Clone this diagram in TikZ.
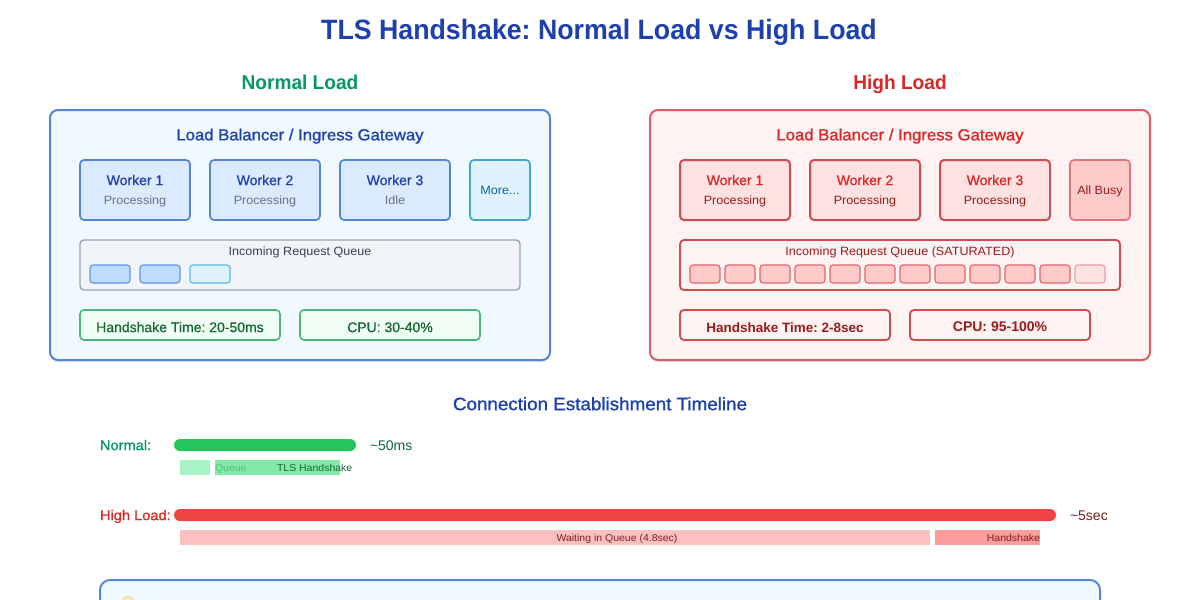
\documentclass[tikz,border=0pt]{standalone}
\usepackage{fontspec}
\usetikzlibrary{shadows}
\setmainfont{Liberation Sans}
\newfontfamily\regf[FakeStretch=1.05]{Liberation Sans}
\newfontfamily\medf[FakeBold=.6]{Liberation Sans}
\newfontfamily\semif[FakeBold=1.1,FakeStretch=1.045]{Liberation Sans}
\newfontfamily\headf[FakeStretch=.955]{Liberation Sans}
\newcommand{\T}[3]{\fontsize{#1}{#1}\selectfont\frenchspacing #2\rule{0pt}{.73em}\smash{#3}}
\definecolor{tblue}{HTML}{1E40AF}
\definecolor{tgreen}{HTML}{059669}
\definecolor{tred}{HTML}{DC2626}
\definecolor{dred}{HTML}{991B1B}
\definecolor{dgreen}{HTML}{166534}
\definecolor{grayt}{HTML}{6B7280}
\definecolor{bstroke}{HTML}{5585D8}
\definecolor{rstroke}{HTML}{DC5F65}
\definecolor{rinner}{HTML}{D04C52}
\definecolor{skyfill}{HTML}{F0F9FF}
\definecolor{rosefill}{HTML}{FEF2F2}
\definecolor{bluefill}{HTML}{DBEAFE}
\definecolor{redfill}{HTML}{FEE2E2}
\definecolor{cyanline}{HTML}{3FA9CC}
\definecolor{cyanfill}{HTML}{E0F2FE}
\definecolor{busyline}{HTML}{E8747A}
\definecolor{busyfill}{HTML}{FECACA}
\definecolor{grayline}{HTML}{9CA3AF}
\definecolor{slatefill}{HTML}{F1F5F9}
\definecolor{itemline}{HTML}{5F93E6}
\definecolor{itemfill}{HTML}{BFDBFE}
\definecolor{itemcline}{HTML}{56B8E6}
\definecolor{itemrline}{HTML}{E0656B}
\definecolor{itemlline}{HTML}{EB9DA0}
\definecolor{greenline}{HTML}{4CB873}
\definecolor{greenfill}{HTML}{F0FDF4}
\definecolor{moreT}{HTML}{0369A1}
\definecolor{barG}{HTML}{22C55E}
\definecolor{barR}{HTML}{EF4444}
\definecolor{segG1}{HTML}{A9F4C6}
\definecolor{segG2}{HTML}{84E9A8}
\definecolor{segR1}{HTML}{FCC0C0}
\definecolor{segR2}{HTML}{FD9C9C}
\definecolor{qtxt}{HTML}{4AC47A}
\definecolor{dkred}{HTML}{7F1D1D}
\definecolor{qtext}{HTML}{374151}
\definecolor{bulbline}{HTML}{F3DC98}
\definecolor{bulbfill}{HTML}{FBF1D0}
\tikzset{
  box/.style={rectangle,anchor=north west,inner sep=0pt,outer sep=0pt,rounded corners=#1},
  box/.default=4pt,
  txt/.style={inner sep=0pt,outer sep=0pt,anchor=center,align=center},
  softshadow/.style={drop shadow={shadow xshift=0pt,shadow yshift=-2pt,opacity=.10,fill=black}},
  panelN/.style={box=8pt,draw=bstroke,line width=2pt,fill=skyfill,minimum width=500pt,minimum height=250pt,softshadow},
  panelR/.style={box=8pt,draw=rstroke,line width=2pt,fill=rosefill,minimum width=500pt,minimum height=250pt,softshadow},
  workerN/.style={box,draw=bstroke,line width=1.7pt,fill=bluefill,minimum width=110pt,minimum height=60pt},
  workerR/.style={box,draw=rinner,line width=2pt,fill=redfill,minimum width=110pt,minimum height=60pt},
  moreN/.style={box,draw=cyanline,line width=1.7pt,fill=cyanfill,minimum width=60pt,minimum height=60pt},
  moreR/.style={box,draw=busyline,line width=1.7pt,fill=busyfill,minimum width=60pt,minimum height=60pt},
  queueN/.style={box,draw=grayline,line width=1.4pt,fill=slatefill,minimum width=440pt,minimum height=50pt},
  queueR/.style={box,draw=rinner,line width=1.8pt,fill=rosefill,minimum width=440pt,minimum height=50pt},
  itemB/.style={box=3pt,draw=itemline,line width=1.1pt,fill=itemfill,minimum width=40pt,minimum height=18pt},
  itemC/.style={box=3pt,draw=itemcline,line width=1.1pt,fill=cyanfill,minimum width=40pt,minimum height=18pt},
  itemR/.style={box=3pt,draw=itemrline,line width=1.1pt,fill=busyfill,minimum width=30pt,minimum height=18pt},
  itemL/.style={box=3pt,draw=itemlline,line width=1.1pt,fill=redfill,minimum width=30pt,minimum height=18pt},
  metricN/.style={box,draw=greenline,line width=1.6pt,fill=greenfill,minimum height=30pt},
  metricR/.style={box,draw=rinner,line width=1.8pt,fill=rosefill,minimum height=30pt},
  bar/.style={box=6pt,minimum height=12pt},
  seg/.style={box=0pt,minimum height=15pt}
}
\begin{document}
\begin{tikzpicture}[x=1pt,y=-1pt]
\useasboundingbox (0,0) rectangle (1200,600);
\clip (0,0) rectangle (1200,600);
\fill[white] (0,0) rectangle (1200,600);
\node[txt,text=tblue] (title) at (599,29.2) {\T{28}{\headf\bfseries}{TLS Handshake: Normal Load vs High Load}};
\node[txt,text=tgreen] (hN) at (300,82.4) {\T{20}{\headf\bfseries}{Normal Load}};
\node[txt,text=tred] (hR) at (900,82.4) {\T{20}{\headf\bfseries}{High Load}};
% Left panel
\node[panelN] (pN) at (50,110) {};
\node[txt,text=tblue] (lbN) at (300,134.5) {\T{16}{\semif}{Load Balancer / Ingress Gateway}};
\node[workerN] (wn1) at (80,160) {};
\node[workerN] (wn2) at (210,160) {};
\node[workerN] (wn3) at (340,160) {};
\node[moreN] (wn4) at (470,160) {};
\node[txt,text=tblue] (wn1a) at (135,180) {\T{14}{\medf}{Worker 1}};
\node[txt,text=grayt] (wn1b) at (135,200.5) {\T{12}{\regf}{Processing}};
\node[txt,text=tblue] (wn2a) at (265,180) {\T{14}{\medf}{Worker 2}};
\node[txt,text=grayt] (wn2b) at (265,200.5) {\T{12}{\regf}{Processing}};
\node[txt,text=tblue] (wn3a) at (395,180) {\T{14}{\medf}{Worker 3}};
\node[txt,text=grayt] (wn3b) at (395,200.5) {\T{12}{\regf}{Idle}};
\node[txt,text=moreT] (wn4a) at (500,190.5) {\T{12}{\regf}{More...}};
\node[queueN] (qN) at (80,240) {};
\node[txt,text=qtext] (qNt) at (300,251) {\T{12}{\regf}{Incoming Request Queue}};
\node[itemB] (qn1) at (90,265) {};
\node[itemB] (qn2) at (140,265) {};
\node[itemC] (qn3) at (190,265) {};
\node[metricN,minimum width=200pt] (mn1) at (80,310) {};
\node[metricN,minimum width=180pt] (mn2) at (300,310) {};
\node[txt,text=dgreen] (mn1t) at (180,327) {\T{14}{\medf}{Handshake Time: 20-50ms}};
\node[txt,text=dgreen] (mn2t) at (390,327) {\T{14}{\medf}{CPU: 30-40\%}};
% Right panel
\node[panelR] (pR) at (650,110) {};
\node[txt,text=tred] (lbR) at (900,134.5) {\T{16}{\semif}{Load Balancer / Ingress Gateway}};
\node[workerR] (wr1) at (680,160) {};
\node[workerR] (wr2) at (810,160) {};
\node[workerR] (wr3) at (940,160) {};
\node[moreR] (wr4) at (1070,160) {};
\node[txt,text=tred] (wr1a) at (735,180) {\T{14}{\medf}{Worker 1}};
\node[txt,text=dred] (wr1b) at (735,200.5) {\T{12}{\regf}{Processing}};
\node[txt,text=tred] (wr2a) at (865,180) {\T{14}{\medf}{Worker 2}};
\node[txt,text=dred] (wr2b) at (865,200.5) {\T{12}{\regf}{Processing}};
\node[txt,text=tred] (wr3a) at (995,180) {\T{14}{\medf}{Worker 3}};
\node[txt,text=dred] (wr3b) at (995,200.5) {\T{12}{\regf}{Processing}};
\node[txt,text=dred] (wr4a) at (1100,190.5) {\T{12}{\regf}{All Busy}};
\node[queueR] (qR) at (680,240) {};
\node[txt,text=dred] (qRt) at (900,251) {\T{12}{\regf}{Incoming Request Queue (SATURATED)}};
\foreach \i in {0,...,10}{\node[itemR] (qr\i) at (690+35*\i,265) {};}
\node[itemL] (qr11) at (1075,265) {};
\node[metricR,minimum width=210pt] (mr1) at (680,310) {};
\node[metricR,minimum width=180pt] (mr2) at (910,310) {};
\node[txt,text=dred] (mr1t) at (785,327.2) {\T{13.5}{\bfseries}{Handshake Time: 2-8sec}};
\node[txt,text=dred] (mr2t) at (1000,326.8) {\T{14}{\bfseries}{CPU: 95-100\%}};
% Timeline
\node[txt,text=tblue] (tl) at (600,403.6) {\T{18}{\semif}{Connection Establishment Timeline}};
\node[txt,anchor=west,text=tgreen] (lN) at (100,445) {\T{14}{\semif}{Normal:}};
\node[bar,fill=barG,minimum width=182pt] (bN) at (174,439) {};
\node[txt,anchor=west,text=dgreen] (vN) at (370,445.5) {\T{14}{}{\char`\~50ms}};
\node[seg,fill=segG1,minimum width=30pt] (s1) at (180,460) {};
\node[seg,fill=segG2,minimum width=125pt] (s2) at (215,460) {};
\node[txt,anchor=west,text=qtxt] (s2a) at (215,467.5) {\T{10}{\regf}{Queue}};
\node[txt,anchor=west,text=dgreen] (s2b) at (277,467.5) {\T{10}{\regf}{TLS Handshake}};
\node[txt,anchor=west,text=tred] (lR) at (100,515) {\T{14}{\semif}{High Load:}};
\node[bar,fill=barR,minimum width=882pt] (bR) at (174,509) {};
\node[txt,anchor=west,text=dkred] (vR) at (1070,515.5) {\T{14}{}{\char`\~5sec}};
\node[seg,fill=segR1,minimum width=750pt] (s3) at (180,530) {};
\node[seg,fill=segR2,minimum width=105pt] (s4) at (935,530) {};
\node[txt,text=dkred] (s3a) at (617,537.5) {\T{10}{\regf}{Waiting in Queue (4.8sec)}};
\node[txt,anchor=east,text=dkred] (s4a) at (1040,537.5) {\T{10}{\regf}{Handshake}};
% Bottom panel, cut by the page edge
\node[box=10pt,draw=bstroke,line width=2pt,fill=skyfill,minimum width=1000pt,minimum height=120pt] (pB) at (100,580) {};
\filldraw[draw=bulbline,fill=bulbfill,line width=1.5pt] (128,602.5) circle (6pt);
\end{tikzpicture}
\end{document}
